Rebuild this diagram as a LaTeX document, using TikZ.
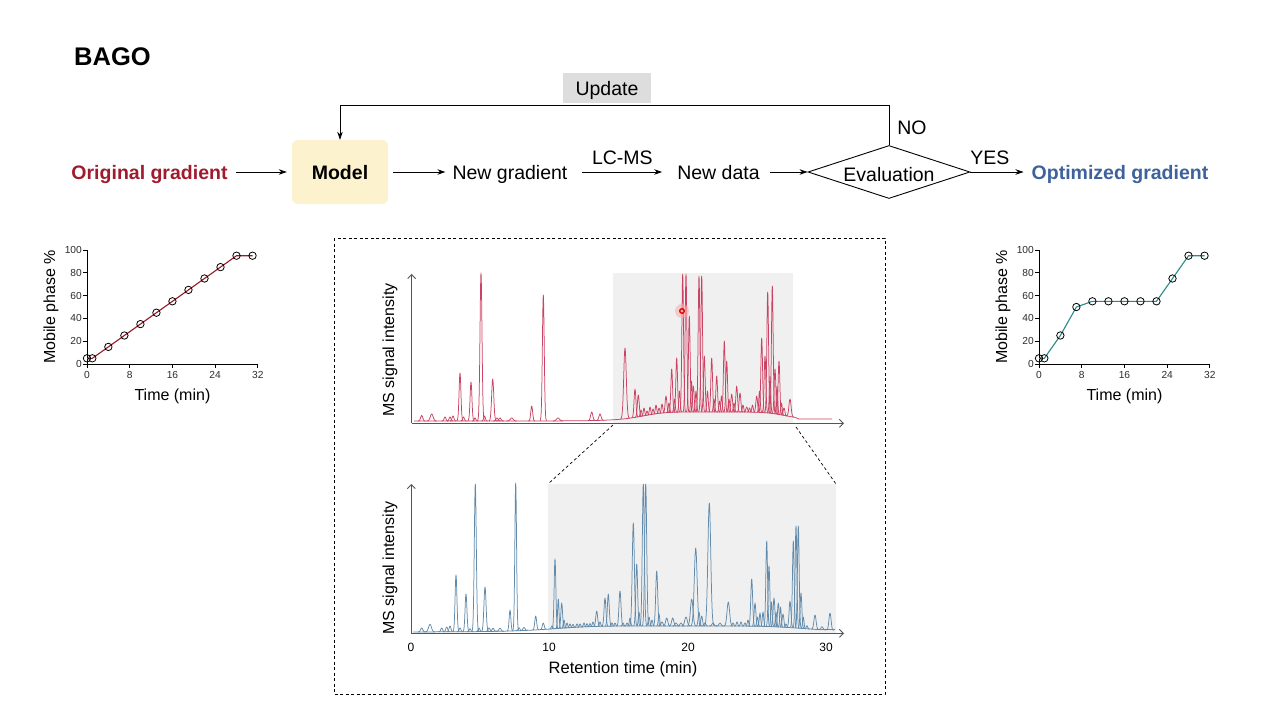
\documentclass[tikz,border=0pt]{standalone}
\usepackage{fontspec}
\setmainfont{Liberation Sans}
\usetikzlibrary{arrows.meta,shapes.geometric}
\definecolor{origred}{RGB}{160,27,45}
\definecolor{optblue}{RGB}{62,98,155}
\definecolor{modelfill}{RGB}{252,242,205}
\definecolor{updgray}{RGB}{221,221,221}
\definecolor{zonegray}{RGB}{240,240,240}
\definecolor{redtrace}{RGB}{204,66,98}
\definecolor{bluetrace}{RGB}{98,138,170}
\definecolor{lred}{RGB}{150,25,40}
\definecolor{lteal}{RGB}{40,138,140}
\definecolor{axgray}{RGB}{85,85,85}
\definecolor{ticktext}{RGB}{45,45,45}
\tikzset{
  flowf/.style={font=\fontsize{19.5}{22}\selectfont},
  txt/.style={flowf, inner sep=0pt, text height=18pt, text depth=4pt},
  flow/.style={-{Stealth[length=8pt,width=5.5pt]}, line width=0.8pt},
  gax/.style={line width=0.8pt, black},
  gtick/.style={font=\fontsize{10.2}{12}\selectfont, text=ticktext, inner sep=1pt},
  labf/.style={font=\fontsize{16}{18}\selectfont, inner sep=0pt},
  mk/.style={line width=0.8pt, black},
  chax/.style={line width=0.9pt, axgray},
  chtip/.style={-{Straight Barb[length=4pt,width=8pt]}},
  ctick/.style={font=\fontsize{12}{14}\selectfont, inner sep=0pt},
  rtr/.style={redtrace, line width=0.75pt, line join=round},
  btr/.style={bluetrace, line width=0.75pt, line join=round},
}
\pgfmathdeclarefunction{basetop}{1}{\pgfmathparse{9/(1+((abs(#1-715)/75)^2)^3)}}
\pgfmathdeclarefunction{basebot}{1}{\pgfmathparse{6/(1+((abs(#1-680)/130)^2)^3)}}
% #1 style, #2 base function, #3 list c/h/w
\newcommand\peaks[3]{%
  \foreach \c/\h/\w in {#3} {%
    \pgfmathsetmacro\pka{\c-2.5*\w}\pgfmathsetmacro\pkb{\c+2.5*\w}%
    \pgfmathsetmacro\pkh{max(\h-#2(\c),3)}%
    \draw[#1] plot[domain=\pka:\pkb, samples=21, smooth] (\x,{-(#2(\x)+\pkh*exp(-((\x-\c)/\w)^2))});
  }}
\begin{document}
\begin{tikzpicture}[x=1pt,y=-1pt]
\useasboundingbox[fill=white] (0,0) rectangle (1280,720);

% title
\node[anchor=west, inner sep=0pt, font=\fontsize{25.5}{28}\selectfont\bfseries] (bago) at (74,57) {BAGO};

% flow
\node[txt, font=\fontsize{19.5}{22}\selectfont\bfseries, text=origred] (orig) at (149.5,172) {Original gradient};
\node[flowf, font=\fontsize{19.5}{22}\selectfont\bfseries, fill=modelfill, rounded corners=6pt, minimum width=96pt, minimum height=64pt, inner sep=0pt, text height=18pt, text depth=4pt] (model) at (340,172) {Model};
\node[txt] (newgrad) at (510,172) {New gradient};
\node[txt] (newdata) at (718.5,172) {New data};
\node[flowf, diamond, draw, line width=0.9pt, inner sep=0pt, aspect=3, minimum width=162pt, minimum height=53pt, text height=19pt, text depth=1pt] (eval) at (889,172) {Evaluation};
\node[txt, font=\fontsize{19.5}{22}\selectfont\bfseries, text=optblue] (optgrad) at (1120,172) {Optimized gradient};

\draw[flow, shorten <=8pt, shorten >=5pt] (orig.east) -- (model.west);
\draw[flow, shorten <=5pt, shorten >=7pt] (model.east) -- (newgrad.west);
\draw[flow, shorten <=14pt, shorten >=15pt] (newgrad.east) -- node[txt, yshift=15pt] (lcms) {LC-MS} (newdata.west);
\draw[flow, shorten <=10pt] (newdata.east) -- (eval.west);
\draw[flow, shorten >=8pt] (eval.east) -- node[txt, yshift=15pt, xshift=-11pt] (yes) {YES} (optgrad.west);
\draw[flow] (eval.north) -- ++(0,-40) -| (model.north);
\node[txt] (no) at (912,127) {NO};
\node[flowf, fill=updgray, minimum width=88pt, minimum height=30pt, inner sep=0pt, text height=18pt, text depth=4pt] (update) at (607,88) {Update};

% left gradient chart
\begin{scope}[shift={(87,364)}, x=5.34pt, y=1.14pt]
  \draw[gax] (0,100) -- (0,0) -- (32,0);
  \foreach \v in {0,20,...,100} {
    \draw[gax] (0,\v) -- ++(-4pt,0);
    \node[gtick, anchor=east] (lty\v) at ([xshift=-4pt]0,\v) {\v};}
  \foreach \t in {0,8,16,24,32} {
    \draw[gax] (\t,0) -- ++(0,-4pt);
    \node[gtick, anchor=north] (ltx\t) at ([yshift=-6pt]\t,0) {\t};}
  \draw[lred, line width=1.1pt] plot coordinates {(0,5) (1,5) (4,15) (7,25) (10,35) (13,45) (16,55) (19,65) (22,75) (25,85) (28,95) (31,95)};
  \foreach \a/\b in {0/5,1/5,4/15,7/25,10/35,13/45,16/55,19/65,22/75,25/85,28/95,31/95}
    \draw[mk] (\a,\b) circle (3.7pt);
  \node[labf, rotate=90] (lyl) at ([xshift=-36pt]0,50) {Mobile phase \%};
  \node[labf] (lxl) at ([yshift=-32pt]16,0) {Time (min)};
\end{scope}

% right gradient chart
\begin{scope}[shift={(1039,364)}, x=5.34pt, y=1.14pt]
  \draw[gax] (0,100) -- (0,0) -- (32,0);
  \foreach \v in {0,20,...,100} {
    \draw[gax] (0,\v) -- ++(-4pt,0);
    \node[gtick, anchor=east] (rty\v) at ([xshift=-4pt]0,\v) {\v};}
  \foreach \t in {0,8,16,24,32} {
    \draw[gax] (\t,0) -- ++(0,-4pt);
    \node[gtick, anchor=north] (rtx\t) at ([yshift=-6pt]\t,0) {\t};}
  \draw[lteal, line width=1.1pt] plot coordinates {(0,5) (1,5) (4,25) (7,50) (10,55) (13,55) (16,55) (19,55) (22,55) (25,75) (28,95) (31,95)};
  \foreach \a/\b in {0/5,1/5,4/25,7/50,10/55,13/55,16/55,19/55,22/55,25/75,28/95,31/95}
    \draw[mk] (\a,\b) circle (3.7pt);
  \node[labf, rotate=90] (ryl) at ([xshift=-36pt]0,50) {Mobile phase \%};
  \node[labf] (rxl) at ([yshift=-32pt]16,0) {Time (min)};
\end{scope}

% center box
\draw[line width=0.8pt, dash pattern=on 3pt off 2.5pt] (334,238) rectangle (885,694);

% top chromatogram
\fill[zonegray] (613,273) rectangle (793,423);
\draw[chax, chtip] (411.7,423.3) -- (411.7,274);
\draw[chax, chtip] (411.7,423.3) -- (844,423.3);
\begin{scope}[shift={(0,421)}]
  \draw[rtr] plot[domain=414:795, samples=160, smooth] (\x,{-basetop(\x)}) -- (799,-2) -- (832,-2);
  \peaks{rtr}{basetop}{421.7/5.5/1.5, 431.7/7/2, 445/4/1.3, 450/4/1.3, 453/5/1.3, 460/48/1.3, 463.5/4/1.2, 471/39/1.3, 475/3/1.2, 481/148/1.4, 484.5/5/1.2, 492.7/42/1.5, 497/3/1.5, 500/3/1.5, 511.7/3/2, 531.7/15/1.3, 543.3/126/1.3, 558/2/2, 591.7/9/1.5, 600/7/1.5, 625/73/1.8, 635/32/1.3, 638.3/26/1.3, 641/11/1, 644/13/1, 647/10/1, 650/14/1, 653/12/1, 656/16/1, 659/13/1, 662/17/1, 666/25/1.2, 669/18/1, 671.7/52/1.2, 674.5/22/1, 676.7/63/1.2, 679.5/30/1, 682.7/147/1.2, 686/147/1.2, 689.3/105/1.2, 691.5/40/1, 693.3/35/1.2, 696/30/1, 699/145/1.2, 701.7/145/1.2, 704.3/65/1.2, 707.5/30/1, 711.7/63/1.2, 714/22/1, 716.7/45/1.2, 719.5/20/1, 721.5/25/1, 724.3/80/1.2, 726.7/60/1.2, 729/22/1, 731.7/27/1.2, 734/18/1, 736.7/35/1.2, 740/28/1.2, 743/16/1, 746.7/14/1.2, 749.5/13/1, 752.5/16/1, 756.7/25/1.2, 759.5/30/1, 761.7/83/1.2, 765/65/1.2, 767.7/129/1.2, 770/45/1, 772.3/135/1.2, 775/52/1.2, 777/35/1, 779/60/1.2, 781.5/18/1, 784/13/1.2, 790/22/1.5}
\end{scope}
\node[labf, rotate=90] (tyl) at (390,350) {MS signal intensity};
\fill[red!35, opacity=0.5] (682,311) circle (7pt);
\draw[red!85!black, line width=1.3pt] (682,311) circle (2.3pt);

% zoom lines
\draw[line width=0.7pt, dash pattern=on 3pt off 2.5pt] (613,425) -- (548,484);
\draw[line width=0.7pt, dash pattern=on 3pt off 2.5pt] (796,427) -- (836,484);

% bottom chromatogram
\fill[zonegray] (548,484) rectangle (836,633);
\draw[chax, chtip] (411.3,633.3) -- (411.3,484);
\draw[chax, chtip] (411.3,633.3) -- (844,633.3);
\begin{scope}[shift={(0,632)}]
  \draw[btr] plot[domain=413:820, samples=170, smooth] (\x,{-basebot(\x)}) -- (826,-2.5) -- (835,-2.5);
  \peaks{btr}{basebot}{421.7/4/1.5, 430/7.7/2, 441.7/4/1.3, 446.7/5/1.3, 450/6/1.3, 456/57/1.3, 460/4/1.2, 466/38/1.3, 470/3/1.2, 475.3/148/1.4, 479/4/1.2, 485/45/1.5, 489/4/1.5, 493/3/1.5, 500/3/1.5, 510/22/1.2, 515.7/149/1.2, 519/3/1.2, 524/2/1.5, 535.7/16/1.3, 543.3/9/1.3, 552/5/1, 555/73/1.2, 558.3/33/1, 561.7/29/1.2, 564/12/1, 567/9/1, 570/8/1, 573/7/1, 577/8/1, 580/6/1, 584/9/1, 587/7/1, 590/8/1, 593/10/1, 596.7/21/1.3, 600/10/1, 605/34/1.3, 608.3/38/1.3, 612/9/1, 615/8/1, 620/41/1.4, 623/8/1, 627/8/1, 630/14/1, 633.3/109/1.5, 636.7/68/1.3, 639/20/1, 643.3/148/1.4, 645.7/148/1.4, 649/15/1.2, 652/12/1, 656.7/61/1.4, 659/18/1, 662/10/1.5, 666.7/14/1.5, 672.7/14/1.5, 676/9/1.5, 681/8/1.5, 686/15/1.8, 691.7/33/1.8, 695.7/84/2, 699/20/1.2, 701.7/16/1.2, 705/9/1.2, 709.3/129/2, 713/9/1.5, 720/8/1.5, 728.3/30/1.8, 733/9/1, 737/10/1, 741/10/1, 745/9/1, 748/12/1, 751.7/53/1.3, 755/29/1.2, 757.5/15/1, 760/19/1, 763/20/1, 766.7/91/1.2, 769/66/1.2, 771.5/30/1, 774/34/1.2, 776/20/1, 778.3/29/1.2, 780.5/25/1, 783/18/1.2, 786/8/1, 790/31/1.3, 793.3/91/1.2, 796/106/1.2, 798.3/106/1.2, 801/39/1.2, 803.3/15/1, 807/5/1, 815/17/1.5, 822/4/1.5, 830/19/1.5}
\end{scope}
\node[labf, rotate=90] (byl) at (390,568) {MS signal intensity};
\node[ctick] (b0) at (411,647) {0};
\node[ctick] (b10) at (549,647) {10};
\node[ctick] (b20) at (688,647) {20};
\node[ctick] (b30) at (826,647) {30};
\node[labf, font=\fontsize{16.5}{18}\selectfont] (bxl) at (623,669) {Retention time (min)};
\end{tikzpicture}
\end{document}
